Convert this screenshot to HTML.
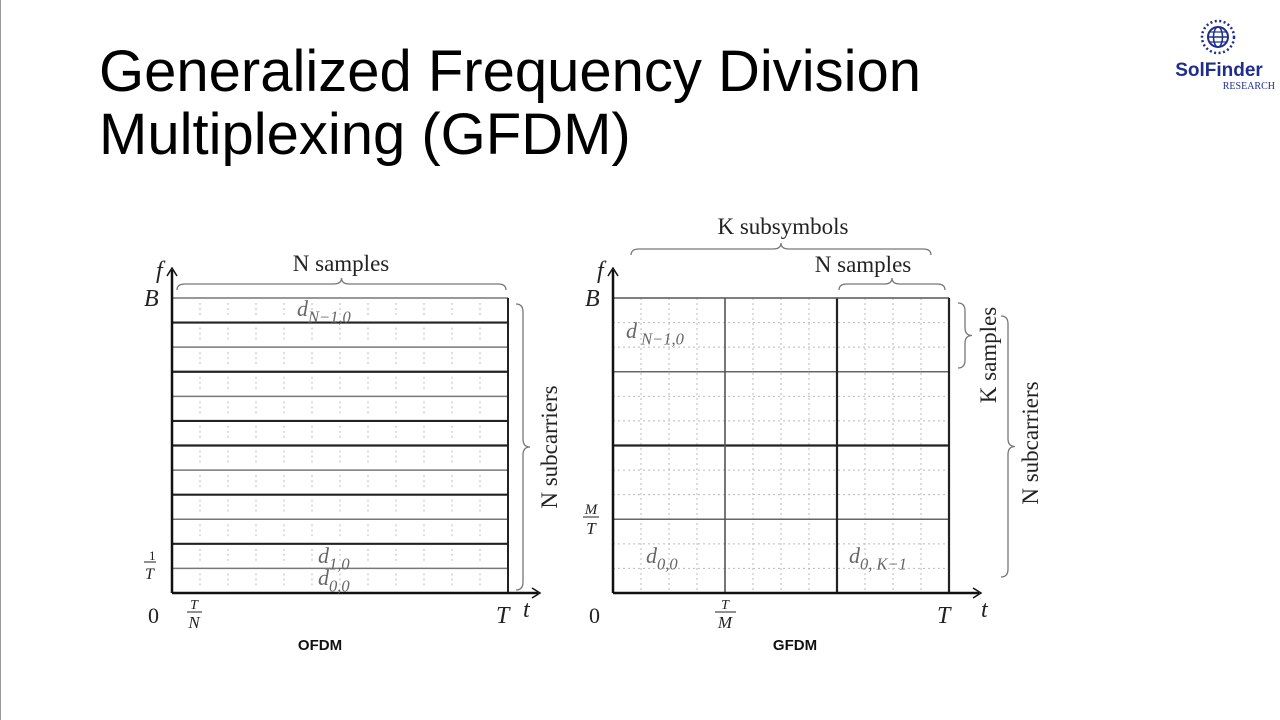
<!DOCTYPE html>
<html><head><meta charset="utf-8"><style>
html,body{margin:0;padding:0;background:#fff}
#slide{position:relative;width:1280px;height:720px;overflow:hidden;background:#fff;border-left:1px solid #999;box-sizing:border-box}
.title{position:absolute;left:98px;top:40px;font:58px/63px "Liberation Sans",sans-serif;color:#000;white-space:nowrap}
</style></head><body>
<div id="slide">
<div class="title">Generalized Frequency Division<br>Multiplexing (GFDM)</div>
<svg id="logo" width="130" height="90" style="position:absolute;left:1150px;top:10px">
<circle cx="67" cy="27" r="16" fill="none" stroke="#1e2e8c" stroke-width="2.5" stroke-dasharray="2 2.5"/>
<circle cx="67" cy="27" r="10" fill="none" stroke="#1e2e8c" stroke-width="2"/>
<ellipse cx="67" cy="27" rx="4.5" ry="10" fill="none" stroke="#1e2e8c" stroke-width="1.5"/>
<line x1="57" y1="27" x2="77" y2="27" stroke="#1e2e8c" stroke-width="1.5"/>
<line x1="59" y1="22" x2="75" y2="22" stroke="#1e2e8c" stroke-width="1.2"/>
<line x1="59" y1="32" x2="75" y2="32" stroke="#1e2e8c" stroke-width="1.2"/>
<text x="68" y="66" text-anchor="middle" style="font-family:'Liberation Sans',sans-serif;font-weight:bold" font-size="19" fill="#1e2e8c">SolFinder</text>
<text x="124" y="79" text-anchor="end" style="font-family:'Liberation Serif',serif" font-size="10" fill="#1e2e8c">RESEARCH</text>
</svg>
<svg id="chart" width="1280" height="720" style="position:absolute;left:0;top:0"></svg>
</div>
<script>
// OFDM: 12 subcarrier rows; thick flags per horizontal line (top to bottom excluding border)
const ofdmRows = 12;
const ofdmCols = 12;
const ofdmThick = [1,0,1,0,1,1,0,1,0,1,0];
// GFDM: 4 subcarrier blocks x 3 subsymbols
const gfdmRows = 4;
const gfdmCols = 3;
const gfdmThickH = [0,1,0];
const gfdmThickV = [0,1];
const NS='http://www.w3.org/2000/svg';
const svg=document.getElementById('chart');
function el(tag,attrs,parent){const e=document.createElementNS(NS,tag);for(const k in attrs)e.setAttribute(k,attrs[k]);(parent||svg).appendChild(e);return e;}
function txt(x,y,s,size,extra){const t=el('text',Object.assign({x:x,y:y,'font-size':size,fill:'#222',style:"font-family:'Liberation Serif',serif"},extra||{}));t.textContent=s;return t;}
function sub(x,y,main,subs,size,extra){
  const t=el('text',Object.assign({x:x,y:y,'font-size':size,fill:'#666','font-style':'italic',style:"font-family:'Liberation Serif',serif"},extra||{}));
  const a=el('tspan',{},t);a.textContent=main;
  const b=el('tspan',{'font-size':size*0.75,dy:size*0.3},t);b.textContent=subs;
  return t;
}
function brace(x1,x2,y,dir){
  const m=(x1+x2)/2,h=6*dir;
  el('path',{d:`M${x1},${y} q0,${h} 8,${h} L${m-8},${y+h} q8,0 8,${h} q0,${-h} 8,${-h} L${x2-8},${y+h} q8,0 8,${-h}`,fill:'none',stroke:'#777','stroke-width':1.3});
}
function vbrace(x,y1,y2){
  const m=(y1+y2)/2,w=7;
  el('path',{d:`M${x},${y1} q${w},0 ${w},8 L${x+w},${m-8} q0,8 ${w},8 q${-w},0 ${-w},8 L${x+w},${y2-8} q0,8 ${-w},8`,fill:'none',stroke:'#777','stroke-width':1.3});
}
function axes(x0,y0,x1,yTop){
  el('line',{x1:x0,y1:y0,x2:x1+30,y2:y0,stroke:'#111','stroke-width':2.5});
  el('line',{x1:x0,y1:y0,x2:x0,y2:yTop-28,stroke:'#111','stroke-width':2.5});
  el('path',{d:`M${x0-5},${yTop-22} L${x0},${yTop-30} L${x0+5},${yTop-22}`,fill:'none',stroke:'#111','stroke-width':1.5});
  el('path',{d:`M${x1+24},${y0-5} L${x1+32},${y0} L${x1+24},${y0+5}`,fill:'none',stroke:'#111','stroke-width':1.5});
}
const sansB="font-family:'Liberation Sans',sans-serif;font-weight:bold";
// ---- OFDM ----
(function(){
  const x0=171,x1=507,y0=593,y1=298;
  const g=el('g',{});
  const cw=(x1-x0)/ofdmCols,rh=(y0-y1)/ofdmRows;
  for(let c=1;c<ofdmCols;c++){for(let r=0;r<ofdmRows;r++){
    el('line',{x1:x0+c*cw,y1:y1+r*rh+5,x2:x0+c*cw,y2:y1+(r+1)*rh-5,stroke:'#bbb','stroke-width':1,'stroke-dasharray':'2 3'},g);}}
  for(let i=1;i<ofdmRows;i++){
    const l=el('line',{x1:x0,y1:y1+i*rh,x2:x1,y2:y1+i*rh,stroke:ofdmThick[i-1]?'#222':'#777','stroke-width':ofdmThick[i-1]?2.2:1.5},g);
    
  }
  el('line',{x1:x0,y1:y1,x2:x1,y2:y1,stroke:'#777','stroke-width':1.5},g);
  el('line',{x1:x1,y1:y1,x2:x1,y2:y0,stroke:'#222','stroke-width':2},g);
  axes(x0,y0,x1,y1);
  txt(x0-16,y1-20,'f',24,{'font-style':'italic'});
  txt(x0-28,y1+8,'B',24,{'font-style':'italic'});
  txt(x0-23,y0-33,'1',13);el('line',{x1:x0-28,y1:y0-31,x2:x0-16,y2:y0-31,stroke:'#222'});txt(x0-27,y0-14,'T',16,{'font-style':'italic'});
  txt(x0-24,y0+30,'0',22);
  txt(x0+22,y0+16,'T',14,{'font-style':'italic','text-anchor':'middle'});el('line',{x1:x0+15,y1:y0+19,x2:x0+30,y2:y0+19,stroke:'#222'});txt(x0+22,y0+35,'N',17,{'font-style':'italic','text-anchor':'middle'});
  txt(x1-12,y0+30,'T',24,{'font-style':'italic'});txt(x1+15,y0+24,'t',24,{'font-style':'italic'});
  sub(296,y1+18,'d','N−1,0',22);
  sub(317,y0-30,'d','1,0',22);
  sub(317,y0-8,'d','0,0',22);
  brace(176,505,290,-1);
  txt(340,271,'N samples',23,{'text-anchor':'middle'});
  vbrace(515,304,590);
  txt(0,0,'N subcarriers',23,{'text-anchor':'middle',transform:'translate(556,447) rotate(-90)'});
  txt(319,650,'OFDM',15,{'text-anchor':'middle',style:sansB,fill:'#111'});
})();
// ---- GFDM ----
(function(){
  const x0=612,x1=948,y0=593,y1=298;
  const g=el('g',{});
  const cw=(x1-x0)/gfdmCols,rh=(y0-y1)/gfdmRows;
  for(let c=0;c<gfdmCols*4;c++){if(c%4)el('line',{x1:x0+c*cw/4,y1:y1,x2:x0+c*cw/4,y2:y0,stroke:'#bbb','stroke-width':1,'stroke-dasharray':'2 3'},g);}
  for(let r=0;r<gfdmRows;r++){for(const f of [1/3,2/3])el('line',{x1:x0,y1:y1+(r+f)*rh,x2:x1,y2:y1+(r+f)*rh,stroke:'#bbb','stroke-width':1,'stroke-dasharray':'2 3'},g);}
  for(let i=1;i<gfdmRows;i++){const l=el('line',{x1:x0,y1:y1+i*rh,x2:x1,y2:y1+i*rh,stroke:gfdmThickH[i-1]?'#222':'#666','stroke-width':gfdmThickH[i-1]?2.2:1.6},g);}
  for(let i=1;i<gfdmCols;i++){const l=el('line',{x1:x0+i*cw,y1:y1,x2:x0+i*cw,y2:y0,stroke:gfdmThickV[i-1]?'#222':'#555','stroke-width':gfdmThickV[i-1]?2.2:1.6},g);}
  el('line',{x1:x0,y1:y1,x2:x1,y2:y1,stroke:'#555','stroke-width':1.6},g);
  el('line',{x1:x1,y1:y1,x2:x1,y2:y0,stroke:'#222','stroke-width':2.2},g);
  axes(x0,y0,x1,y1);
  txt(x0-16,y1-20,'f',24,{'font-style':'italic'});
  txt(x0-28,y1+8,'B',24,{'font-style':'italic'});
  txt(x0-22,y1+216,'M',15,{'font-style':'italic','text-anchor':'middle'});el('line',{x1:x0-30,y1:y1+219,x2:x0-14,y2:y1+219,stroke:'#222'});txt(x0-22,y1+236,'T',17,{'font-style':'italic','text-anchor':'middle'});
  txt(x0-24,y0+30,'0',22);
  txt(724,y0+16,'T',14,{'font-style':'italic','text-anchor':'middle'});el('line',{x1:714,y1:y0+19,x2:735,y2:y0+19,stroke:'#222'});txt(724,y0+35,'M',17,{'font-style':'italic','text-anchor':'middle'});
  txt(x1-12,y0+30,'T',24,{'font-style':'italic'});txt(x1+32,y0+24,'t',24,{'font-style':'italic'});
  sub(625,y1+40,'d',' N−1,0',22);
  sub(645,y0-30,'d','0,0',22);
  sub(848,y0-30,'d','0, K−1',22);
  brace(630,930,255,-1);
  txt(782,234,'K  subsymbols',23,{'text-anchor':'middle'});
  brace(838,944,290,-1);
  txt(862,272,'N samples',23,{'text-anchor':'middle'});
  vbrace(957,303,368);
  txt(0,0,'K samples',23,{'text-anchor':'middle',transform:'translate(995,355) rotate(-90)'});
  vbrace(1000,316,577);
  txt(0,0,'N subcarriers',23,{'text-anchor':'middle',transform:'translate(1037,443) rotate(-90)'});
  txt(794,650,'GFDM',15,{'text-anchor':'middle',style:sansB,fill:'#111'});
})();
</script>
</body></html>
